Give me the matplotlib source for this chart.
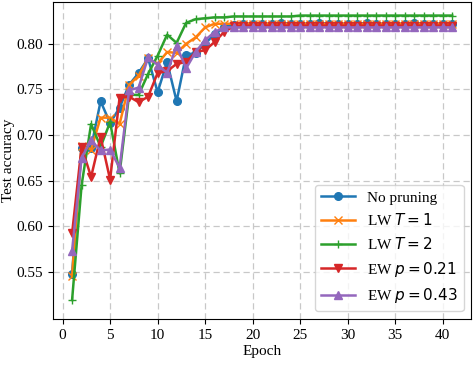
import matplotlib
matplotlib.use("Agg")
import matplotlib.pyplot as plt
import numpy as np

epochs = np.arange(1, 42)

# test accuracy per epoch
no_pruning = [0.548, 0.686, 0.686, 0.737, 0.713, 0.730, 0.755, 0.768, 0.784, 0.747,
              0.780, 0.737, 0.788, 0.790, 0.800, 0.811, 0.818, 0.821, 0.822, 0.822,
              0.822, 0.822, 0.823, 0.822, 0.822, 0.822, 0.823, 0.822, 0.822, 0.822,
              0.822, 0.823, 0.822, 0.822, 0.822, 0.822, 0.823, 0.822, 0.822, 0.822,
              0.822]
lw_t1 = [0.545, 0.688, 0.684, 0.719, 0.719, 0.712, 0.755, 0.765, 0.784, 0.778,
         0.791, 0.790, 0.800, 0.807, 0.818, 0.822, 0.822, 0.822, 0.822, 0.822,
         0.822, 0.822, 0.822, 0.822, 0.822, 0.822, 0.822, 0.822, 0.822, 0.822,
         0.822, 0.822, 0.822, 0.822, 0.822, 0.822, 0.822, 0.822, 0.822, 0.822,
         0.822]
lw_t2 = [0.519, 0.645, 0.712, 0.687, 0.714, 0.658, 0.744, 0.744, 0.767, 0.787,
         0.810, 0.801, 0.823, 0.827, 0.828, 0.829, 0.829, 0.830, 0.830, 0.830,
         0.830, 0.830, 0.830, 0.830, 0.831, 0.831, 0.831, 0.831, 0.831, 0.831,
         0.831, 0.831, 0.831, 0.831, 0.831, 0.831, 0.831, 0.831, 0.831, 0.831,
         0.831]
ew_p021 = [0.592, 0.687, 0.654, 0.698, 0.651, 0.741, 0.742, 0.736, 0.742, 0.768,
           0.770, 0.778, 0.780, 0.791, 0.793, 0.802, 0.813, 0.819, 0.820, 0.820,
           0.820, 0.820, 0.820, 0.820, 0.820, 0.820, 0.820, 0.820, 0.820, 0.820,
           0.820, 0.820, 0.820, 0.820, 0.820, 0.820, 0.820, 0.820, 0.820, 0.820,
           0.820]
ew_p043 = [0.573, 0.675, 0.694, 0.683, 0.684, 0.664, 0.749, 0.752, 0.785, 0.777,
           0.768, 0.798, 0.773, 0.791, 0.804, 0.813, 0.818, 0.818, 0.818, 0.818,
           0.818, 0.818, 0.818, 0.818, 0.818, 0.818, 0.818, 0.818, 0.818, 0.818,
           0.818, 0.818, 0.818, 0.818, 0.818, 0.818, 0.818, 0.818, 0.818, 0.818,
           0.818]

series = [
    (no_pruning, "No pruning", "o"),
    (lw_t1, "LW $T = 1$", "x"),
    (lw_t2, "LW $T = 2$", "+"),
    (ew_p021, "EW $p = 0.21$", "v"),
    (ew_p043, "EW $p = 0.43$", "^"),
]

plt.rcParams["font.family"] = ["Liberation Serif", "DejaVu Serif"]
plt.rcParams["mathtext.fontset"] = "dejavusans"
plt.rcParams["font.size"] = 11

fig = plt.figure(figsize=(4.74, 3.75), dpi=100)
ax = fig.add_axes([0.112, 0.149, 0.882, 0.846])

for vals, label, mk in series:
    ax.plot(epochs, vals, marker=mk, markersize=5.5, linewidth=1.8, label=label)

ax.set_xlim(-1, 43)
ax.set_ylim(0.498, 0.846)
ax.set_xticks(np.arange(0, 41, 5))
ax.set_yticks([0.55, 0.60, 0.65, 0.70, 0.75, 0.80])
ax.set_yticklabels(["0.55", "0.60", "0.65", "0.70", "0.75", "0.80"])
ax.set_xlabel("Epoch", labelpad=2)
ax.set_ylabel("Test accuracy")
ax.yaxis.set_label_coords(-0.09, 0.5)
ax.grid(True, linestyle=(0, (5, 3)), color="#c8c8c8", linewidth=0.9)
ax.legend(loc="lower right", fontsize=11, handlelength=2.2)

fig.savefig("out.png", dpi=100)
